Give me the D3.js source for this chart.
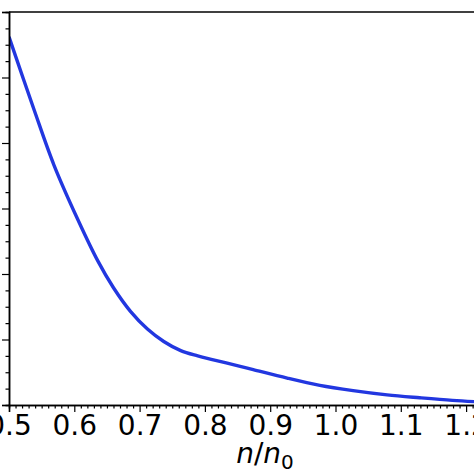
<!DOCTYPE html>
<html>
<head>
<meta charset="utf-8">
<script src="https://cdn.jsdelivr.net/npm/d3@7"></script>
<style>
  html, body { margin: 0; padding: 0; background: #fff; }
  svg { display: block; }
  text { font-family: "DejaVu Sans", sans-serif; }
</style>
</head>
<body>
<svg id="chart" width="474" height="474"></svg>
<script>
// Data (y-axis labels are cropped off in the reference)
const densityRatio = [0.50, 0.538, 0.569, 0.605, 0.636, 0.660, 0.686, 0.712, 0.737, 0.763, 0.789, 0.813, 0.854, 0.874, 0.926, 0.976, 1.027, 1.079, 1.129, 1.179, 1.215];
const values       = [5.62, 4.52, 3.66, 2.84, 2.20, 1.79, 1.43, 1.16, 0.97, 0.83, 0.75, 0.69, 0.59, 0.54, 0.41, 0.30, 0.22, 0.155, 0.11, 0.07, 0.05];
const xTickValues = [0.5, 0.6, 0.7, 0.8, 0.9, 1.0, 1.1, 1.2];
const xTickLabels = ["0.5", "0.6", "0.7", "0.8", "0.9", "1.0", "1.1", "1.2"];
const yMajorTicks = [0, 1, 2, 3, 4, 5, 6];

const svg = d3.select("#chart");
const mLeft = 9, mTop = 12, mBottom = 405;
const x = d3.scaleLinear().domain([0.5, 1.22]).range([mLeft, mLeft + 0.72 * 653]);
const y = d3.scaleLinear().domain([0, 6]).range([mBottom, mTop]);

const xMinor = d3.range(50, 123).map(d => d / 100).filter(v => !xTickValues.some(t => Math.abs(t - v) < 1e-9));
const yMinor = d3.range(0, 24.01).map(d => d / 4).filter(v => !yMajorTicks.includes(v));

svg.append("defs").append("clipPath").attr("id", "clip")
  .append("rect").attr("x", mLeft).attr("y", mTop).attr("width", 600).attr("height", mBottom - mTop);

// curve
svg.append("path")
  .datum(densityRatio.map((d, i) => [d, values[i]]))
  .attr("clip-path", "url(#clip)")
  .attr("fill", "none")
  .attr("stroke", "#2237e0")
  .attr("stroke-width", 3.4)
  .attr("stroke-linejoin", "round")
  .attr("d", d3.line().x(d => x(d[0])).y(d => y(d[1])).curve(d3.curveCatmullRom.alpha(0.5)));

// x axis
const gx = svg.append("g").attr("transform", `translate(0,${mBottom})`);
gx.call(d3.axisBottom(x).tickValues(xTickValues).tickFormat((d, i) => xTickLabels[i]).tickSize(7).tickPadding(3));
gx.append("g").call(d3.axisBottom(x).tickValues(xMinor).tickFormat("").tickSize(3.5));
gx.selectAll(".domain").attr("stroke", "#000").attr("stroke-width", 1.5);
gx.selectAll(".tick line").attr("stroke", "#000").attr("stroke-width", 1.2);
gx.selectAll("text").attr("font-size", 28).attr("fill", "#000").attr("font-family", "DejaVu Sans, sans-serif");

// y axis
const gy = svg.append("g").attr("transform", `translate(${mLeft},0)`);
gy.call(d3.axisLeft(y).tickValues(yMajorTicks).tickFormat("").tickSize(7));
gy.append("g").call(d3.axisLeft(y).tickValues(yMinor).tickFormat("").tickSize(3.5));
gy.selectAll(".domain").attr("stroke", "#000").attr("stroke-width", 1.5);
gy.selectAll(".tick line").attr("stroke", "#000").attr("stroke-width", 1.2);

// top spine
svg.append("line").attr("x1", mLeft).attr("x2", 480).attr("y1", mTop).attr("y2", mTop)
  .attr("stroke", "#000").attr("stroke-width", 1.5);

// x label
const lab = svg.append("text").attr("x", 265).attr("y", 463).attr("text-anchor", "middle")
  .attr("font-size", 28).attr("fill", "#000");
lab.append("tspan").attr("font-style", "italic").text("n");
lab.append("tspan").text("/");
lab.append("tspan").attr("font-style", "italic").text("n");
lab.append("tspan").attr("font-size", 20).attr("dy", 6).text("0");
</script>
</body>
</html>
